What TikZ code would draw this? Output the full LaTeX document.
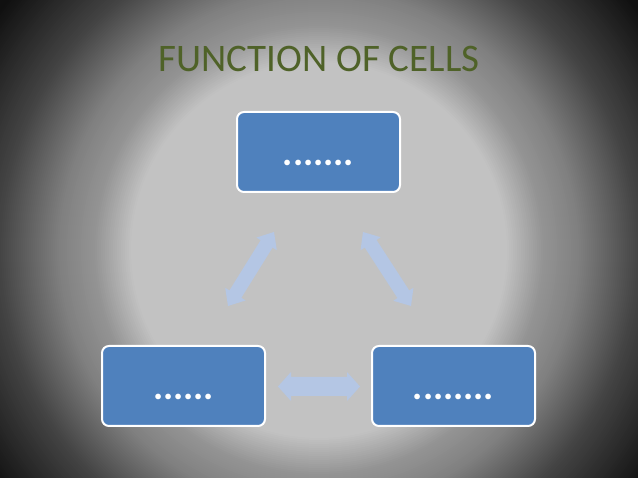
\documentclass[tikz,border=0pt]{standalone}
\usepackage{fontspec}
\setmainfont{Carlito}
\usetikzlibrary{calc}
\definecolor{boxblue}{HTML}{4F81BD}
\definecolor{titlegreen}{HTML}{4F6228}
\definecolor{arrowblue}{RGB}{180,198,228}
\tikzset{
  cellbox/.style={draw=white, line width=2pt, fill=boxblue, rounded corners=7pt, minimum width=163pt, minimum height=80pt, inner sep=0pt},
  dots/.style={text=white, font=\fontsize{38}{40}\selectfont\bfseries, anchor=base, inner sep=0pt},
  twoway/.style={fill=arrowblue},
}
% #1,#2: end points; #3 half shaft width; #4 half head width; #5 head length
\newcommand{\dblarrow}[5]{%
  \coordinate (pA) at ($(#1)!#5!(#2)$);
  \coordinate (pB) at ($(#2)!#5!(#1)$);
  \fill[twoway] (#1) -- ($(pA)!#4!90:(#2)$) -- ($(pA)!#3!90:(#2)$)
    -- ($(pB)!#3!-90:(#1)$) -- ($(pB)!#4!-90:(#1)$) -- (#2)
    -- ($(pB)!#4!90:(#1)$) -- ($(pB)!#3!90:(#1)$)
    -- ($(pA)!#3!-90:(#2)$) -- ($(pA)!#4!-90:(#2)$) -- cycle;}
\begin{document}
\begin{tikzpicture}[x=1pt,y=-1pt]
\useasboundingbox (0,0) rectangle (638,478);
\begin{scope}
  \clip (0,0) rectangle (638,478);
  \foreach \r in {430,428,...,188} {
    \pgfmathsetmacro{\g}{\r<=185 ? 198 : (\r<=225 ? 198-(\r-185)*50/40 : (\r<=260 ? 148-(\r-225)*20/35 : (\r<=320 ? 128-(\r-260)*60/60 : max(16,68-(\r-320)*52/80))))}
    \pgfmathsetmacro{\gg}{\g/255}
    \definecolor{ringc}{gray}{\gg}
    \fill[ringc] (319,250) circle (\r);
  }
\end{scope}
\node[text=titlegreen, font=\fontsize{39}{44}\selectfont, anchor=base] (title) at (319,72) {FUNCTION OF CELLS};
\node[cellbox] (top) at (318.5,152) {};
\node[cellbox] (left) at (183.5,386) {};
\node[cellbox] (right) at (453.5,386) {};
\node[dots] (topdots) at (318.5,166) {.......};
\node[dots] (leftdots) at (183.5,400) {......};
\node[dots] (rightdots) at (453.5,400) {........};
\coordinate (la) at (228,306);
\coordinate (lb) at (274,232);
\coordinate (ra) at (363,232);
\coordinate (rb) at (411,306);
\coordinate (ba) at (278,386.5);
\coordinate (bb) at (360,386.5);
\dblarrow{la}{lb}{7pt}{12pt}{14pt}
\dblarrow{ra}{rb}{7pt}{12pt}{14pt}
\dblarrow{ba}{bb}{9.5pt}{14.5pt}{13pt}
\end{tikzpicture}
\end{document}
